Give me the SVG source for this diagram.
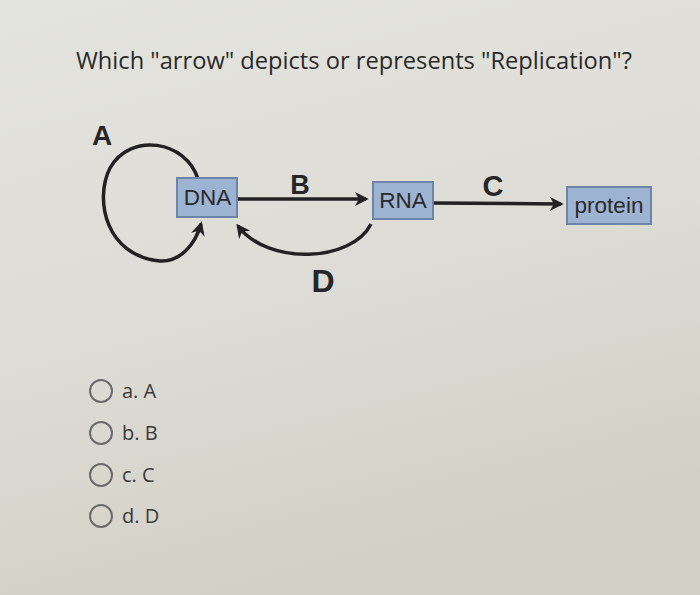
<svg xmlns="http://www.w3.org/2000/svg" width="700" height="595" viewBox="0 0 700 595">
<defs>
<linearGradient id="bg" x1="0" y1="0" x2="0.3" y2="1">
<stop offset="0" stop-color="#e4e4df"/>
<stop offset="0.6" stop-color="#dcdbd4"/>
<stop offset="1" stop-color="#d3d1c6"/>
</linearGradient>
<marker id="ah" viewBox="0 0 10 10" refX="8" refY="5" markerWidth="4" markerHeight="4" orient="auto" markerUnits="strokeWidth">
<path d="M0,0 L10,5 L0,10 L3,5 Z" fill="#222"/>
</marker>
<style>
.box{fill:#9db3d2;stroke:#6d84a6;stroke-width:2}
.bt{font-family:"Liberation Sans",Arial,sans-serif;font-size:22.5px;fill:#2a2a2a;text-anchor:middle}
.lbl{font-family:"Liberation Sans",Arial,sans-serif;font-weight:bold;fill:#262626;text-anchor:middle}
.ln{fill:none;stroke:#222;stroke-width:3.5}
.opt{font-family:"Open Sans","Noto Sans",sans-serif;font-size:20px;fill:#3a3a3a}
.rad{fill:none;stroke:#6a6a6a;stroke-width:2}
</style>
</defs>
<rect width="700" height="595" fill="url(#bg)"/>
<text x="76" y="69" font-family="Open Sans, Noto Sans, sans-serif" font-size="24" fill="#2a2a2a" textLength="556" lengthAdjust="spacingAndGlyphs">Which "arrow" depicts or represents "Replication"?</text>
<g id="connectors">
<path class="ln" d="M198,179 C186,140 130,132 110,168 C94,200 106,256 160,261 C180,262 195,245 201,224" marker-end="url(#ah)"/>
<line class="ln" x1="237" y1="199" x2="366" y2="199" marker-end="url(#ah)"/>
<line class="ln" x1="433" y1="203" x2="561" y2="204" marker-end="url(#ah)"/>
<path class="ln" d="M371,224 C352,262 268,266 238,226" marker-end="url(#ah)"/>
</g>
<g id="labelA"><text class="lbl" x="102" y="145" font-size="28">A</text></g>
<g id="labelB"><text class="lbl" x="300" y="194" font-size="27">B</text></g>
<g id="labelC"><text class="lbl" x="493" y="196" font-size="29">C</text></g>
<g id="labelD"><text class="lbl" x="323" y="292" font-size="32">D</text></g>
<g id="dna"><rect class="box" x="177" y="178" width="60" height="39"/><text class="bt" x="207.5" y="205">DNA</text></g>
<g id="rna"><rect class="box" x="373" y="182" width="60" height="37"/><text class="bt" x="403" y="208">RNA</text></g>
<g id="protein"><rect class="box" x="567" y="187" width="84" height="37"/><text class="bt" x="609" y="213">protein</text></g>
<g id="options">
<circle class="rad" cx="101" cy="391" r="11"/><text class="opt" x="122" y="398">a. A</text>
<circle class="rad" cx="101" cy="433" r="11"/><text class="opt" x="122" y="440">b. B</text>
<circle class="rad" cx="101" cy="475" r="11"/><text class="opt" x="122" y="482">c. C</text>
<circle class="rad" cx="101" cy="516" r="11"/><text class="opt" x="122" y="523">d. D</text>
</g>
</svg>
